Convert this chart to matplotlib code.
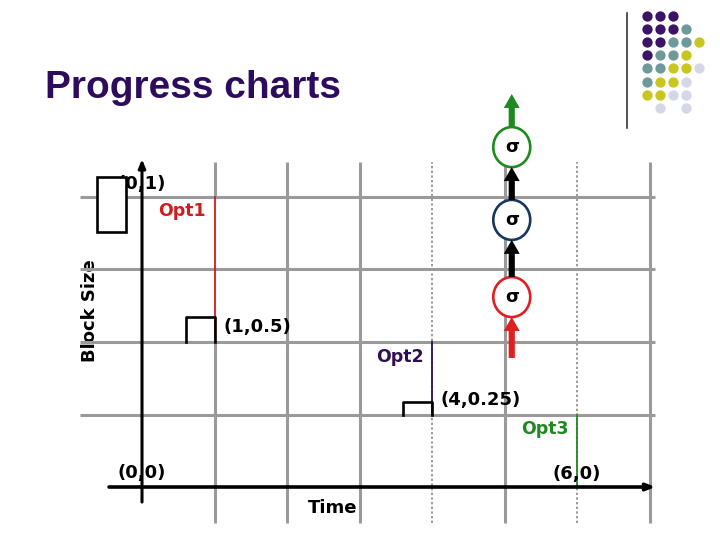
import matplotlib.pyplot as plt
from matplotlib.patches import Rectangle, Ellipse, FancyArrow
from matplotlib.lines import Line2D

# corner points of the progress chart (time, block size)
point_t = [0, 1, 4, 6]
point_b = [1.0, 0.5, 0.25, 0.0]
point_labels = ['(0,1)', '(1,0.5)', '(4,0.25)', '(6,0)']
origin_label = '(0,0)'

# optimisation steps
opt_names = ['Opt1', 'Opt2', 'Opt3']
opt_t = [1, 4, 6]
opt_top = [1.0, 0.5, 0.25]
opt_bottom = [0.5, 0.25, 0.0]
opt_colors = ['#d01c1c', '#2e1052', '#1f8a1f']

# grid
grid_t = [1, 2, 3, 4, 5, 6, 7]
dotted_t = [4, 6]
grid_b = [0.25, 0.5, 0.75, 1.0]

# sigma pipeline
sigma_levels = [0.655, 0.921, 1.172]
sigma_colors = ['#e02020', '#17375e', '#1f8a1f']
sigma_t = 5.1

# logo dots
logo_rows = ['PPP..', 'PPPT.', 'PPTTY', 'PTTY.', 'TTYYL', 'TYYL.', 'YYLL.', '.L.L.']
logo_colors = {'P': '#3b1466', 'T': '#6e9a9c', 'Y': '#c9c61f', 'L': '#d5d6e8'}

GRAY = '#9a9a9a'

fig = plt.figure(figsize=(7.2, 5.4), dpi=100)
ax = fig.add_axes([0, 0, 1, 1])
ax.set_xlim(-142 / 72.5, (720 - 142) / 72.5)
ax.set_ylim((487 - 540) / 290, 487 / 290)
ax.axis('off')

# horizontal grid
for b in grid_b:
    ax.plot([-0.86, 7.08], [b, b], color=GRAY, lw=2.2, zorder=1, solid_capstyle='butt')

# vertical grid (opt lines replace pieces of the grid)
for t in grid_t:
    if t in dotted_t:
        ax.plot([t, t], [-0.124, 1.121], color=GRAY, lw=1.4, ls=(0, (1.2, 1.2)), zorder=1)
    elif t in opt_t:
        i = opt_t.index(t)
        ax.plot([t, t], [opt_top[i], 1.121], color=GRAY, lw=2.2, zorder=1, solid_capstyle='butt')
        ax.plot([t, t], [-0.124, opt_bottom[i]], color=GRAY, lw=2.2, zorder=1, solid_capstyle='butt')
    else:
        ax.plot([t, t], [-0.124, 1.121], color=GRAY, lw=2.2, zorder=1, solid_capstyle='butt')

for name, t, top, bot, c in zip(opt_names, opt_t, opt_top, opt_bottom, opt_colors):
    ax.plot([t, t], [bot, top], color=c, lw=1.3, zorder=2)
    ax.text(t - 0.12, top - 0.05, name, color=c, fontsize=12.5, fontweight='bold',
            ha='right', va='center', zorder=3)

# axes with arrows
ax.annotate('', xy=(0, 1.131), xytext=(0, -0.052),
            arrowprops=dict(arrowstyle='-|>,head_width=0.2,head_length=0.5', lw=2.2, color='black',
                            shrinkA=0, shrinkB=0), zorder=4)
ax.annotate('', xy=(7.08, 0), xytext=(-0.455, 0),
            arrowprops=dict(arrowstyle='-|>,head_width=0.2,head_length=0.5', lw=2.6, color='black',
                            shrinkA=0, shrinkB=0), zorder=4)

# point labels
for t, b, lab in zip(point_t, point_b, point_labels):
    if t in (0, 6):
        ax.text(t, b + 0.045, lab, fontsize=13, fontweight='bold', ha='center', va='center', zorder=3)
    else:
        ax.text(t + 0.12, b + 0.05, lab, fontsize=13, fontweight='bold', ha='left', va='center', zorder=3)
ax.text(0, 0.048, origin_label, fontsize=13, fontweight='bold', ha='center', va='center', zorder=3)

# block boxes
box_w = 0.4
ax.add_patch(Rectangle((-0.62, 0.88), box_w, 0.19 * point_b[0], facecolor='white',
                       edgecolor='black', lw=1.9, zorder=5))
for t, b in zip(point_t[1:3], point_b[1:3]):
    h = 0.17 * b
    ax.plot([t - box_w, t - box_w, t, t], [b, b + h, b + h, b], color='black', lw=1.9, zorder=5)

ax.text(2.63, -0.072, 'Time', fontsize=13, fontweight='bold', ha='center', va='center', zorder=3)
ax.text(-0.72, 0.607, 'Block Size', fontsize=13, fontweight='bold', rotation=90,
        ha='center', va='center', zorder=0)

# sigma circles and arrows
for lvl, c in zip(sigma_levels, sigma_colors):
    ax.add_patch(Ellipse((sigma_t, lvl), 0.51, 0.138, facecolor='white', edgecolor=c, lw=1.9, zorder=6))
    ax.text(sigma_t, lvl, 'σ', fontsize=13, fontweight='bold', ha='center', va='center', zorder=7)

half = 0.069
arrow_spans = [(0.445, sigma_levels[0] - half, '#e02020'),
               (sigma_levels[0] + half, sigma_levels[1] - half, 'black'),
               (sigma_levels[1] + half, sigma_levels[2] - half, 'black'),
               (sigma_levels[2] + half, 1.355, '#1f8a1f')]
for y0, y1, c in arrow_spans:
    ax.add_patch(FancyArrow(sigma_t, y0, 0, y1 - y0, width=0.085, head_width=0.22,
                            head_length=0.048, length_includes_head=True, color=c, lw=0, zorder=6))

# title
fig.text(45 / 720, 1 - 98 / 540, 'Progress charts', fontsize=28, fontweight='bold',
         family='Liberation Sans', color='#2d0c5e', ha='left', va='baseline')

# logo
fig.add_artist(Line2D([627 / 720] * 2, [1 - 13 / 540, 1 - 128 / 540], color='#222222', lw=1.1))
lax = fig.add_axes([640.1 / 720, 1 - 114.6 / 540, 65.5 / 720, 105.5 / 540])
lax.set_xlim(-0.5, 4.5)
lax.set_ylim(7.5, -0.5)
lax.axis('off')
for r, row in enumerate(logo_rows):
    for c, ch in enumerate(row):
        if ch in logo_colors:
            lax.scatter(c, r, s=55, color=logo_colors[ch], linewidths=0)

fig.savefig('out.png', dpi=100)
